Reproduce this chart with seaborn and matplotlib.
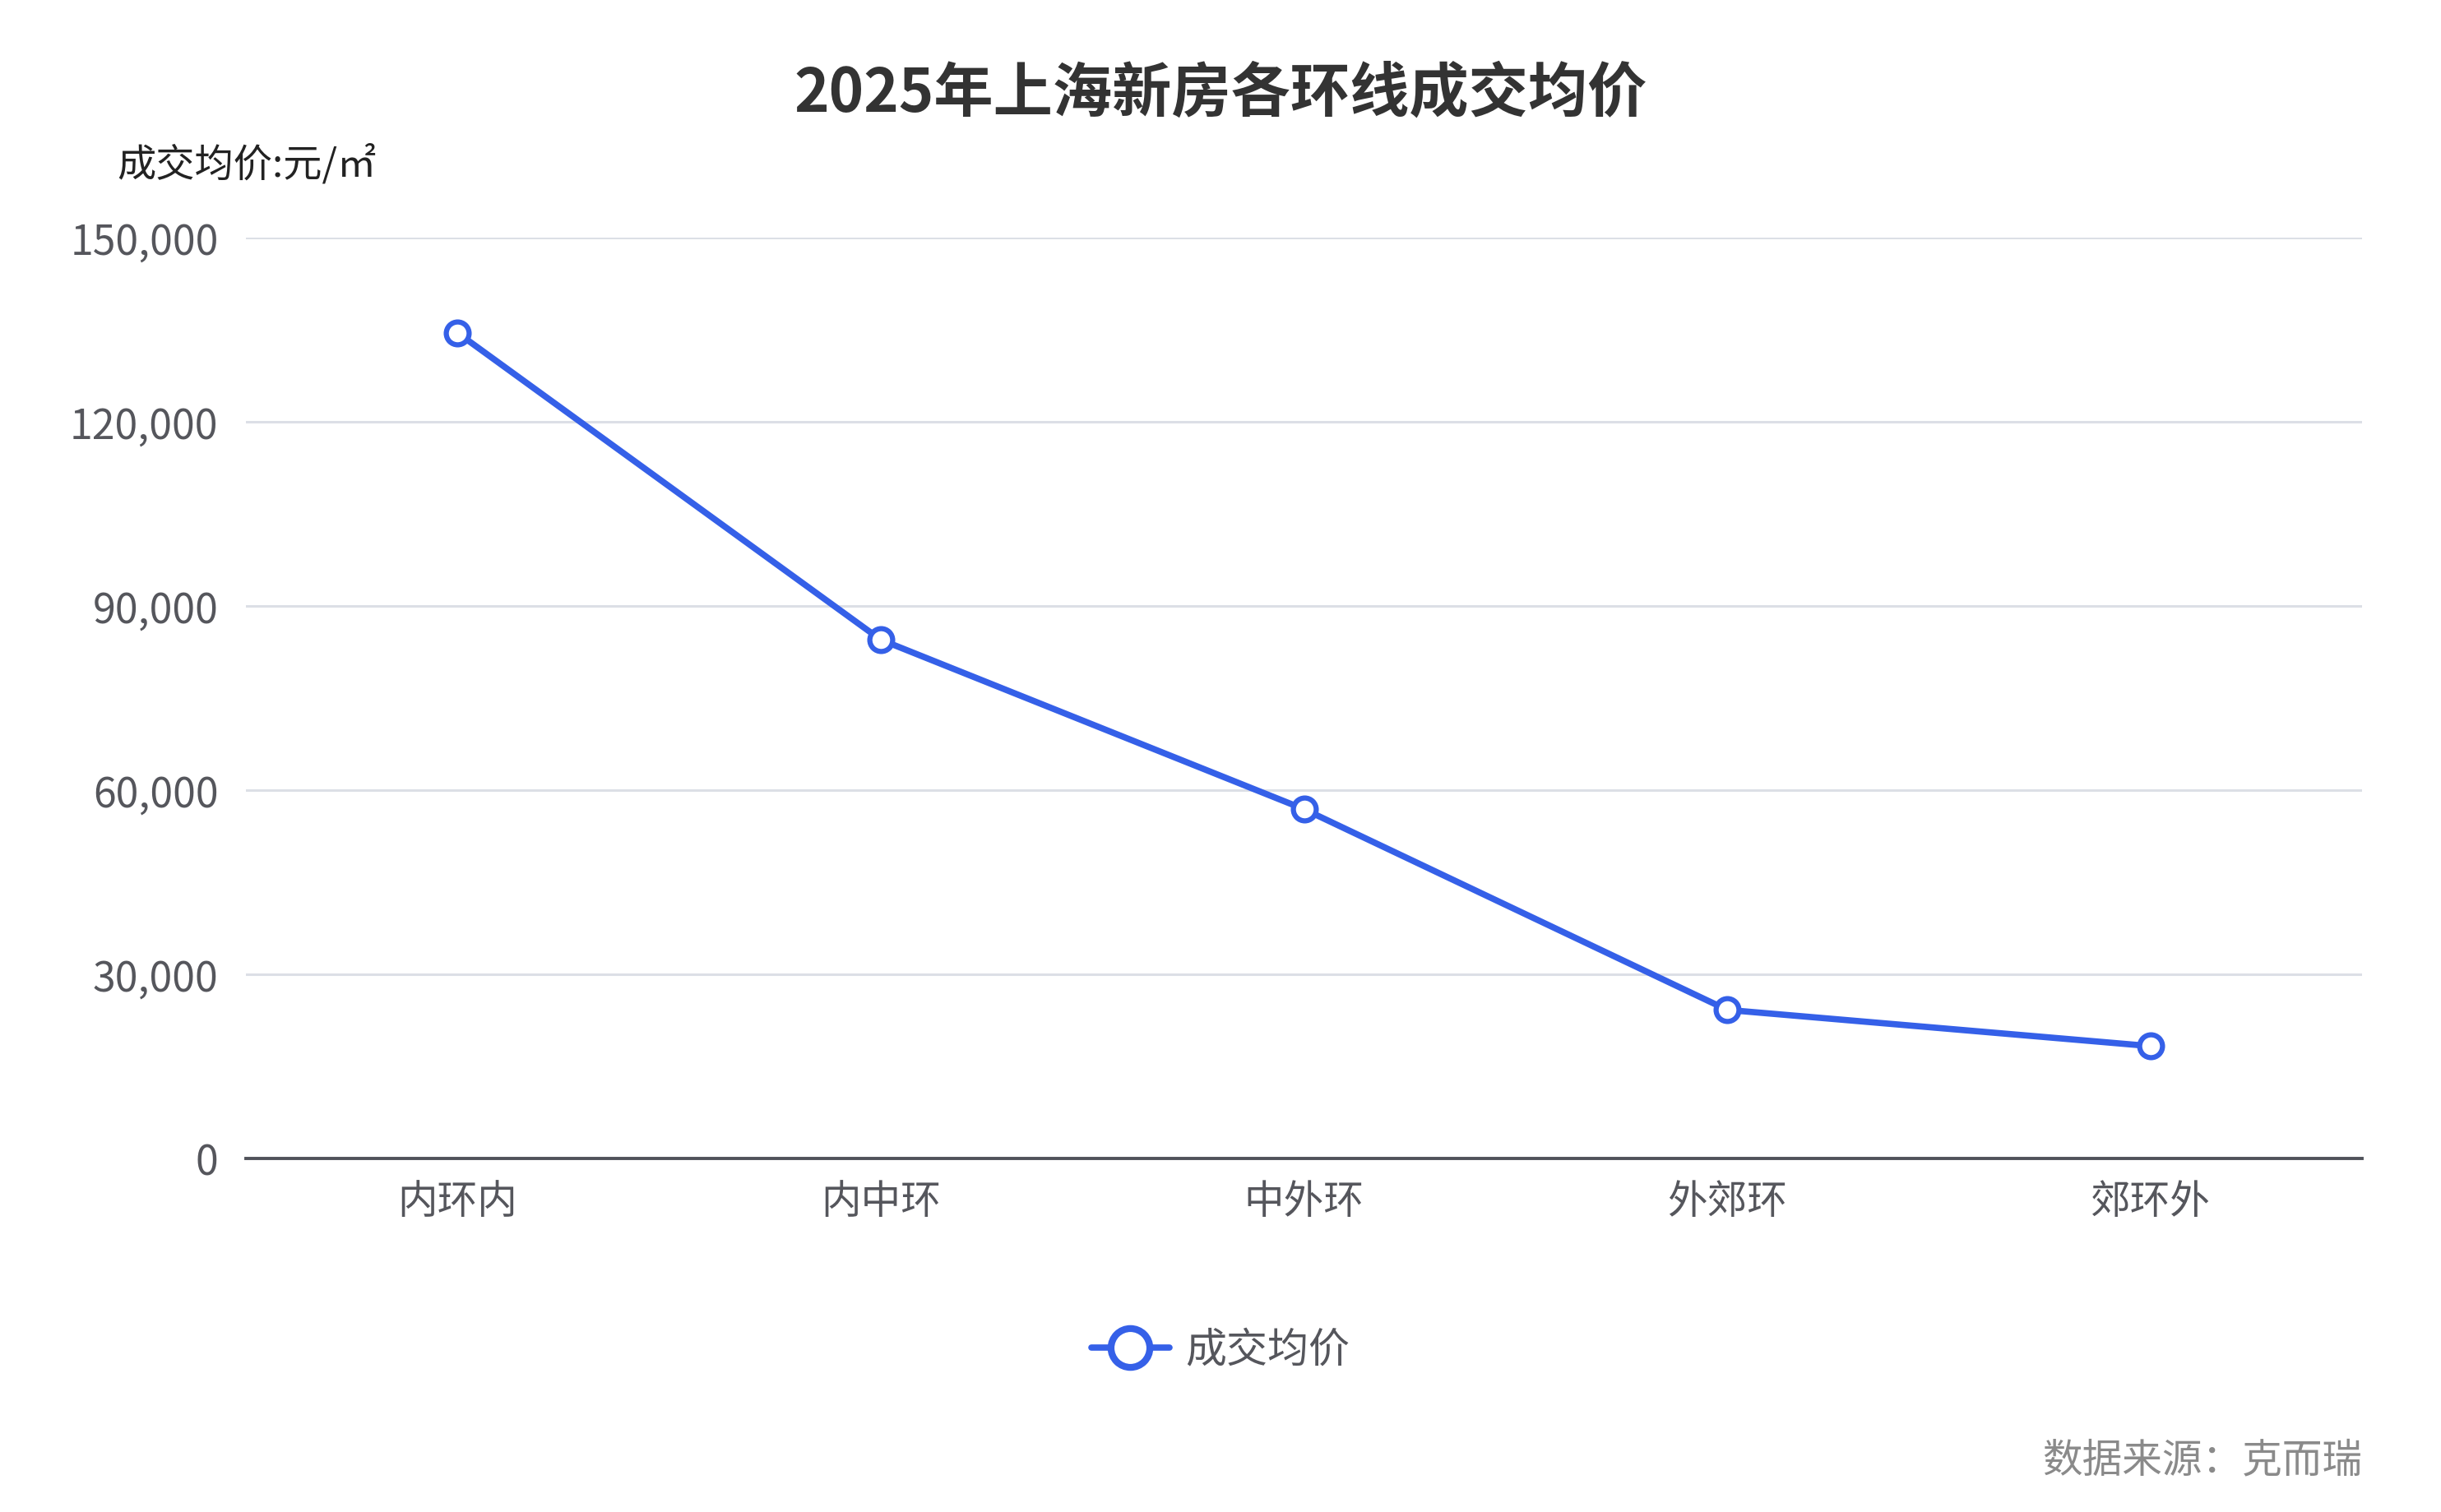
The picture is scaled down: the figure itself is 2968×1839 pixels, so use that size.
import numpy as np
import pandas as pd
import matplotlib
matplotlib.use("Agg")
import matplotlib.pyplot as plt
import seaborn as sns
from matplotlib.lines import Line2D
from matplotlib.ticker import FuncFormatter

# 数据
rings = ['内环内', '内中环', '中外环', '外郊环', '郊环外']
avg_price = [134500, 84500, 56900, 24200, 18300]
y_ticks = [0, 30000, 60000, 90000, 120000, 150000]

sns.set_theme(style="white")
plt.rcParams['font.family'] = ['Noto Sans CJK SC', 'DejaVu Sans']

df = pd.DataFrame({'环线': rings, '成交均价': avg_price})
df['pos'] = np.arange(len(rings))

fig = plt.figure(figsize=(29.68, 18.4), dpi=100)
ax = fig.add_axes([0.1007, 0.2337, 0.867, 0.6087])

line_color = '#3560E8'
sns.lineplot(data=df, x='pos', y='成交均价', ax=ax, color=line_color,
             linewidth=5.5, marker='o', markersize=20,
             markerfacecolor='white', markeredgecolor=line_color,
             markeredgewidth=4.5, legend=False, zorder=5)

ax.set_xlim(-0.5, len(rings) - 0.5)
ax.set_ylim(0, 150000)
ax.set_xticks(df['pos'])
ax.set_xticklabels(rings)
ax.set_yticks(y_ticks)
ax.yaxis.set_major_formatter(FuncFormatter(lambda v, p: f'{int(v):,}'))
ax.set_xlabel('')
ax.set_ylabel('')

ax.grid(axis='y', color='#DCDFE6', linewidth=2.2)
ax.set_axisbelow(True)
for s in ['top', 'right', 'left']:
    ax.spines[s].set_visible(False)
ax.spines['bottom'].set_color('#50525A')
ax.spines['bottom'].set_linewidth(2.8)
ax.tick_params(axis='both', length=0, labelsize=35, labelcolor='#55565C')
ax.tick_params(axis='y', labelsize=36, pad=24)
ax.tick_params(axis='x', pad=20)

fig.text(0.5, 0.938, '2025年上海新房各环线成交均价', ha='center', va='center',
         fontsize=52, fontweight='bold', color='#333333')
fig.text(0.048, 0.891, '成交均价:元/㎡', ha='left', va='center',
         fontsize=34, color='#222222')
fig.text(0.9677, 0.021, '数据来源：克而瑞', ha='right', va='bottom',
         fontsize=35, color='#8A8A8A')

handle = Line2D([], [], color=line_color, linewidth=5.5, marker='o',
                markersize=34, markerfacecolor='white',
                markeredgecolor=line_color, markeredgewidth=6)
leg = ax.legend([handle], ['成交均价'], loc='center',
                bbox_to_anchor=(0.5, 0.107), bbox_transform=fig.transFigure,
                frameon=False, fontsize=36, handlelength=1.9,
                handletextpad=0.4)
for t in leg.get_texts():
    t.set_color('#55565C')

fig.savefig('out.png', dpi=100, facecolor='white')
